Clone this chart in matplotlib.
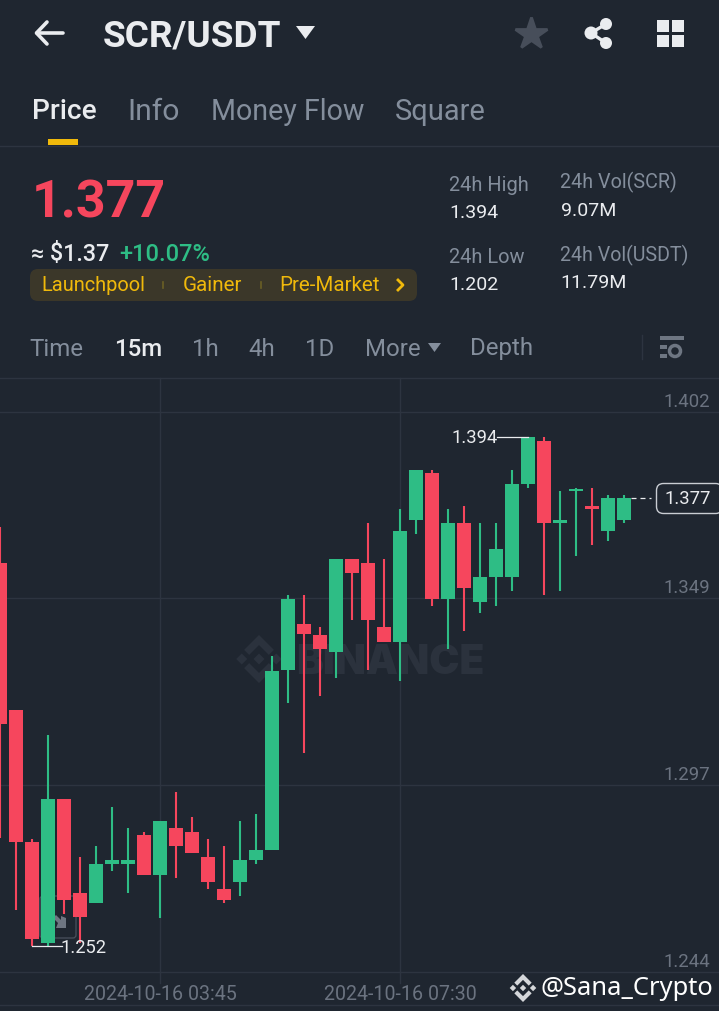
import matplotlib
matplotlib.use("Agg")
import matplotlib.pyplot as plt
from matplotlib.patches import Polygon, Rectangle, FancyBboxPatch, Circle

# ---------- data ----------
opens = [1.3594,1.3179,1.2806,1.2521,1.2927,1.2662,1.2634,1.2744,1.2744,1.2826,
         1.2713,1.2846,1.2834,1.2764,1.2673,1.2693,1.2755,1.2783,1.3292,1.3421,
         1.3390,1.3342,1.3605,1.3594,1.3413,1.3371,1.3715,1.3848,1.3492,1.3707,
         1.3484,1.3554,1.3554,1.3817,1.3938,1.3707,1.3797,1.3755,1.3684,1.3715]
closes = [1.3139,1.2806,1.2532,1.2927,1.2642,1.2594,1.2744,1.2755,1.2755,1.2713,
          1.2865,1.2795,1.2775,1.2693,1.2642,1.2755,1.2783,1.3289,1.3492,1.3393,
          1.3351,1.3605,1.3565,1.3433,1.3371,1.3684,1.3856,1.3492,1.3707,1.3523,
          1.3554,1.3633,1.3817,1.3949,1.3707,1.3715,1.3803,1.3746,1.3777,1.3777]
highs = [1.3695,1.3179,1.2815,1.3108,1.2927,1.2764,1.2795,1.2905,1.2846,1.2834,
         1.2865,1.2947,1.2877,1.2815,1.2795,1.2865,1.2885,1.3331,1.3503,1.3503,
         1.3413,1.3605,1.3605,1.3707,1.3605,1.3746,1.3856,1.3856,1.3746,1.3755,
         1.3707,1.3707,1.3856,1.3949,1.3949,1.3797,1.3805,1.3805,1.3786,1.3786]
lows = [1.2817,1.2614,1.2512,1.2512,1.2603,1.2521,1.2634,1.2724,1.2662,1.2713,
        1.2592,1.2704,1.2775,1.2673,1.2634,1.2654,1.2744,1.2783,1.3198,1.3057,
        1.3218,1.3269,1.3433,1.3292,1.3371,1.3261,1.3676,1.3472,1.3351,1.3402,
        1.3453,1.3472,1.3515,1.3805,1.3503,1.3515,1.3613,1.3645,1.3656,1.3707]
price_ticks = [1.4020, 1.3494, 1.2967, 1.2440]
date_labels = ["2024-10-16 03:45", "2024-10-16 07:30"]
date_slots = [10, 25]
tabs = ["Price", "Info", "Money Flow", "Square"]
intervals = ["Time", "15m", "1h", "4h", "1D", "More", "Depth"]
tags = ["Launchpool", "Gainer", "Pre-Market"]
high_label = "1.394"
low_label = "1.252"
last_label = "1.377"

# ---------- styles ----------
BG = "#1F2630"; GRID = "#2D3440"; RED = "#F6465D"; GREEN = "#2EBD85"
GRAY = "#848E9C"; WHITE = "#EAECEF"; GOLD = "#F0B90B"; DIM = "#4A515D"
FONT = "Roboto"
plt.rcParams["font.family"] = [FONT, "DejaVu Sans"]

W, H = 719, 1011
fig = plt.figure(figsize=(W / 100, H / 100), dpi=100, facecolor=BG)

# ---------- chart axes (data coords: candle slot / price) ----------
ax = fig.add_axes([0, 0, 1, 1], facecolor="none", zorder=2)
ax.set_xlim(-0.3 / 16, (W - 0.3) / 16)
ax.set_ylim(1.5183 - 0.0002823 * H, 1.5183)
ax.axis("off")

# UI overlay in pixel coordinates
ui = fig.add_axes([0, 0, 1, 1], facecolor="none", zorder=1)
ui.set_xlim(0, W); ui.set_ylim(H, 0); ui.axis("off")
top = fig.add_axes([0, 0, 1, 1], facecolor="none", zorder=3)
top.set_xlim(0, W); top.set_ylim(H, 0); top.axis("off")


def T(a, x, y, s, size, color=WHITE, weight="normal", ha="left", va="center", **kw):
    a.text(x, y + 1.5, s, fontsize=size * 0.72, color=color, fontweight=weight,
           ha=ha, va=va, **kw)


def logo(a, cx, cy, r, color, z=1):
    """Binance diamond mark."""
    def dia(x, y, s):
        a.add_patch(Polygon([(x - s, y), (x, y - s), (x + s, y), (x, y + s)],
                            closed=True, fc=color, ec="none", zorder=z))
    dia(cx, cy, r * 0.23)
    dia(cx - r * 0.72, cy, r * 0.23)
    dia(cx + r * 0.72, cy, r * 0.23)
    t = r * 0.30
    for sgn in (-1, 1):
        a.add_patch(Polygon([(cx - r * 0.62, cy + sgn * r * 0.38),
                             (cx, cy + sgn * r),
                             (cx + r * 0.62, cy + sgn * r * 0.38),
                             (cx + r * 0.62 - t * .7, cy + sgn * (r * 0.38 - t * .7)),
                             (cx, cy + sgn * (r - 2 * t * .7)),
                             (cx - r * 0.62 + t * .7, cy + sgn * (r * 0.38 - t * .7))],
                            closed=True, fc=color, ec="none", zorder=z))


# ---------- grid ----------
for p in price_ticks:
    ax.axhline(p, color=GRID, lw=1.0, zorder=1)
ui.plot([0, W], [145.5, 145.5], color=GRID, lw=1)
ui.plot([0, W], [378, 378], color=GRID, lw=1)
ui.plot([0, W], [1005, 1005], color=GRID, lw=1)
for s in date_slots:
    ax.plot([s, s], [1.5183 - 0.0002823 * 378, 1.5183 - 0.0002823 * 983],
            color=GRID, lw=1.0, zorder=1)

# ---------- watermark ----------
logo(ui, 259, 659, 24, "#2B323D")
T(ui, 296, 662, "BINANCE", 40.5, color="#2B323D", weight="black", family="Inter")

# indicator box behind the candles
ui.add_patch(FancyBboxPatch((40, 896), 36, 42, boxstyle="round,pad=0,rounding_size=3",
                            fc="none", ec=DIM, lw=0.9))
ui.add_patch(Polygon([(53, 918), (56, 915), (61, 920), (61, 916), (66, 918),
                      (66, 928), (56, 928), (58, 923)], closed=True, fc="#6E7682", ec="none"))

# ---------- candles ----------
for i, (o, c, h, l) in enumerate(zip(opens, closes, highs, lows)):
    col = GREEN if c >= o else RED
    ax.vlines(i, l, h, color=col, lw=1.5, zorder=3)
    ax.bar(i, abs(c - o), bottom=min(o, c), width=14 / 16, color=col, lw=0, zorder=4)

# ---------- price axis labels ----------
for p in price_ticks:
    ax.annotate(f"{p:.3f}", (W - 8.5, p), xycoords=("axes pixels", "data"),
                xytext=(0, 11.5 * 0.72 - 1.2), textcoords="offset points",
                fontsize=13.4, color="#6B7380", ha="right", va="center")
for s, d in zip(date_slots, date_labels):
    ax.annotate(d, (s, 0), xycoords=("data", "axes pixels"),
                xytext=(0, 18 * 0.72 - 1.4), textcoords="offset points",
                fontsize=14.1, color="#6B7380", ha="center", va="center")

# ---------- high / low / last markers ----------
i_hi = highs.index(max(highs)); i_lo = lows.index(min(lows))
ax.plot([i_hi, i_hi - 31 / 16], [max(highs)] * 2, color=WHITE, lw=0.9, zorder=6)
ax.annotate(high_label, (i_hi - 31 / 16, max(highs)), xytext=(0, -0.7), textcoords="offset points",
            fontsize=13.2, color=WHITE, ha="right", va="center", zorder=6)
ax.plot([i_lo, i_lo + 30 / 16], [min(lows)] * 2, color=WHITE, lw=0.9, zorder=6)
ax.annotate(low_label, (i_lo + 30 / 16, min(lows)), xytext=(-1, -1), textcoords="offset points",
            fontsize=13.2, color=WHITE, ha="left", va="center", zorder=6)
last = closes[-1]
ax.plot([39 + 7 / 16, 39 + 27 / 16], [last, last], color=WHITE, lw=0.9,
        dashes=(4, 3.2), zorder=6)
top.add_patch(FancyBboxPatch((656.5, 483.5), 66, 30, boxstyle="round,pad=0,rounding_size=7",
                             fc=BG, ec="#C9CDD3", lw=1))
T(top, 688, 498, last_label, 18.5, ha="center")

# ---------- bottom stamp ----------
logo(top, 523, 988, 14, "#D5D7DA", z=6)
T(top, 541, 987, "@Sana_Crypto", 25.5, color="#FFFFFF", family="Noto Sans")

# ---------- header ----------
ui.plot([37, 63], [33, 33], color=WHITE, lw=2.6, solid_capstyle="round")
ui.plot([47, 36.5, 47], [22, 33, 44], color=WHITE, lw=2.6, solid_capstyle="round",
        solid_joinstyle="round")
T(ui, 103, 35, "SCR/USDT", 37, weight="bold")
ui.add_patch(Polygon([(296, 26), (315, 26), (305.5, 39)], closed=True, fc=WHITE, ec="none"))
ui.plot([530.5], [33.5], marker="*", ms=24, color="#474E5A", mec="#474E5A", mew=2)
ui.plot([606, 591, 606], [24, 33, 43], color=WHITE, lw=2.4)
for cx, cy, r in [(606, 24, 6), (591, 33, 6.5), (606, 43, 6)]:
    ui.add_patch(Circle((cx, cy), r, fc=WHITE, ec="none"))
for x0, y0 in [(657, 20), (672, 20), (657, 35), (672, 35)]:
    ui.add_patch(Rectangle((x0, y0), 11.5, 11.5, fc=WHITE, ec="none"))

# tabs
tab_x = [31.5, 127, 211, 395]
tab_size = [28, 30, 28.6, 29]
for k, (x, s, z) in enumerate(zip(tab_x, tabs, tab_size)):
    T(ui, x, 110, s, z, color=WHITE if k == 0 else GRAY, weight="medium" if k == 0 else "normal")
ui.add_patch(Rectangle((48, 139), 30, 6, fc=GOLD, ec="none"))

# price block
T(ui, 32, 202, "1.377", 52, color=RED, weight="bold")
T(ui, 31, 253, "≈ $1.37", 23.3, weight="medium")
T(ui, 119.5, 253, "+10.07%", 23.6, color=GREEN, weight="medium")
ui.add_patch(FancyBboxPatch((30, 269), 387, 32, boxstyle="round,pad=0,rounding_size=8",
                            fc="#3B3729", ec="none"))
for x, s, z in zip([41.5, 183, 279.5], tags, [20, 20.6, 20.5]):
    T(ui, x, 284, s, z, color=GOLD)
for x in (163, 261):
    ui.plot([x, x], [282, 288], color="#6B5F25", lw=1.2)
ui.plot([398, 403, 398], [280, 285, 290], color=GOLD, lw=2)

# stats
T(ui, 449, 184, "24h High", 20, color=GRAY)
T(ui, 449, 211, "1.394", 19.5)
T(ui, 449, 256, "24h Low", 20, color=GRAY)
T(ui, 449, 283, "1.202", 19.5)
T(ui, 560.5, 181, "24h Vol(SCR)", 19.8, color=GRAY)
T(ui, 560.5, 210, "9.07M", 19.5)
T(ui, 560.5, 254, "24h Vol(USDT)", 19.7, color=GRAY)
T(ui, 560.5, 282, "11.79M", 19.5)

# intervals
int_x = [29.5, 114.5, 192, 248, 305, 365, 470.5]
for x, s in zip(int_x, intervals):
    on = s == "15m"
    T(ui, x, 347.5, s, 24, color=WHITE if on else GRAY, weight="medium" if on else "normal")
ui.add_patch(Polygon([(428, 343), (441, 343), (434.5, 352)], closed=True, fc=GRAY, ec="none"))
ui.plot([642, 642], [335, 359], color=GRID, lw=1)
ui.add_patch(Rectangle((660, 336), 24, 3.5, fc="#6E7682", ec="none"))
ui.add_patch(Rectangle((660, 345), 7, 3.5, fc="#6E7682", ec="none"))
ui.add_patch(Rectangle((660, 354), 7, 3.5, fc="#6E7682", ec="none"))
ui.add_patch(Circle((675, 351), 5.5, fc=BG, ec="#6E7682", lw=2.5))

fig.savefig("out.png", dpi=100, facecolor=BG)
